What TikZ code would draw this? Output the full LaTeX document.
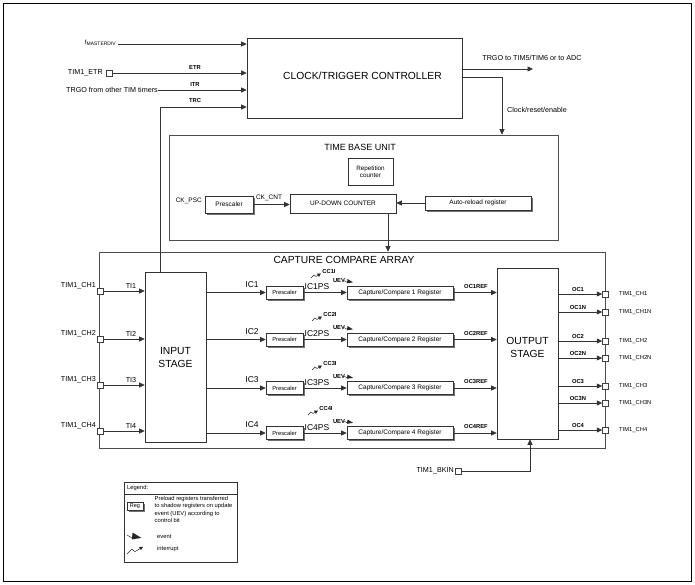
\documentclass[tikz,border=0pt]{standalone}
\usepackage{fontspec}
\setmainfont{Liberation Sans}
\usetikzlibrary{arrows.meta}
\begin{document}
\begin{tikzpicture}[x=1pt,y=-1pt,
  ln/.style={draw=black!80,line width=0.6pt},
  arr/.style={ln,-{Triangle[length=5.5pt,width=5pt]}},
  box/.style={draw=black!80,line width=0.6pt,fill=white,inner sep=0pt},
  sbox/.style={box,preaction={fill=black!55,transform canvas={xshift=1.6pt,yshift=-1.6pt}}},
  cont/.style={draw=black!70,line width=0.6pt,inner sep=0pt},
  pinsq/.style={draw=black!75,line width=0.5pt,fill=white,minimum size=6pt,inner sep=0pt},
  t10/.style={font=\fontsize{10.3}{12.5}\selectfont,inner sep=0pt,align=center},
  t9/.style={font=\fontsize{9}{11}\selectfont,inner sep=0pt},
  l7/.style={font=\fontsize{7.2}{8.6}\selectfont,inner sep=0pt},
  l65/.style={font=\fontsize{6.5}{7.8}\selectfont,inner sep=0pt},
  l6/.style={font=\fontsize{5.8}{7.3}\selectfont,inner sep=0pt,align=left},
  r6/.style={font=\fontsize{5.8}{7}\selectfont,inner sep=0pt},
  b6/.style={font=\bfseries\fontsize{5.8}{7}\selectfont,inner sep=0pt},
  l85/.style={font=\fontsize{8.5}{10}\selectfont,inner sep=0pt},
  intr/.pic={\draw[line width=0.5pt,black!85,-{Triangle[length=3.5pt,width=3.5pt]}] (0,0) -- (3,-3) -- (5,-1.5) -- (10,-4.5);},
  evt/.pic={\draw[line width=0.5pt,black!85] (0,0) -- (2.5,1.5) -- (4,1.5); \fill[black!85] (3.5,-1.5) -- (9,1.8) -- (3,2.8) -- cycle;}
]
\useasboundingbox (0,0) rectangle (695,585);
\draw[line width=0.8pt] (3,3) rectangle (691,581);

% containers
\node[cont,minimum width=389pt,minimum height=105pt] (tbu) at (363.5,187.5) {};
\node[cont,minimum width=506pt,minimum height=196pt] (cca) at (352,350) {};

% clock / trigger controller
\node[box,minimum width=215pt,minimum height=80pt] (ctrl) at (354.5,78) {};
\node[t10] (ctrlT) at (362.5,76) {CLOCK/TRIGGER CONTROLLER};

\node[inner sep=0pt,anchor=east] (fm) at (116,43) {{\fontsize{6}{7}\selectfont f}\raisebox{-1.5pt}{\fontsize{5}{6}\selectfont MASTERDIV}};
\coordinate (fmc) at (118,44);
\draw[arr] (fmc) -- (ctrl.west |- fmc);

\node[l7,anchor=east] (etrL) at (103,73) {TIM1\_ETR};
\node[pinsq] (etr) at (109.5,73) {};
\draw[arr] (etr.east) -- (ctrl.west |- etr);
\node[b6] (etrT) at (195,68) {ETR};

\node[l7,anchor=east] (itrL) at (158,90) {TRGO from other TIM timers};
\draw[arr] (itrL.east) -- (ctrl.west |- itrL.east);
\node[b6] (itrT) at (195,85) {ITR};

\coordinate (trgo) at (533,69);
\draw[arr] (ctrl.east |- trgo) -- (trgo);
\node[l7] (trgoT) at (532,58) {TRGO to TIM5/TIM6 or to ADC};
\coordinate (clk) at (502,77);
\draw[arr] (ctrl.east |- clk) -- (clk) -- (tbu.north -| clk);
\node[l7] (clkT) at (537,110) {Clock/reset/enable};

% time base unit
\node[t9] (tbuT) at (360,147) {TIME BASE UNIT};
\node[box,minimum width=45pt,minimum height=27pt,font=\fontsize{6.3}{7.5}\selectfont,align=center] (rep) at (370.5,171.5) {Repetition\\counter};
\node[sbox,minimum width=48pt,minimum height=17pt,l65] (psc) at (229,204.5) {Prescaler};
\node[box,minimum width=106pt,minimum height=19pt,l65] (udc) at (343,203.5) {UP-DOWN COUNTER};
\node[sbox,minimum width=106pt,minimum height=14pt,l65] (arl) at (478,203) {Auto-reload register};
\node[l65,anchor=east] (ckpsc) at (202,201) {CK\_PSC};
\node[l65] (ckcnt) at (269,198) {CK\_CNT};
\draw[arr] (psc.east) -- (udc.west |- psc.east);
\draw[arr] (arl.west) -- (udc.east |- arl.west);
\coordinate (dn) at (388,213);
\draw[arr] (udc.south -| dn) -- (cca.north -| dn);

% capture compare array
\node[t10] (ccaT) at (344,259.5) {CAPTURE COMPARE ARRAY};
\node[box,minimum width=61pt,minimum height=170pt] (instage) at (175.5,357) {};
\node[t10] (inT) at (175.5,357.5) {INPUT\\STAGE};
\node[box,minimum width=61pt,minimum height=171pt] (ostage) at (527.5,353.5) {};
\node[t10] (outT) at (527.5,347.5) {OUTPUT\\STAGE};

\coordinate (trc) at (160,107);
\draw[arr] (instage.north -| trc) -- (trc) -- (ctrl.west |- trc);
\node[b6] (trcT) at (195,101) {TRC};

\foreach \i/\ty/\cy/\ccx/\ccy in {1/291/292.5/329/272,2/339/339.5/330/315,3/385/388/330/364,4/431/433/326/409}{
  \node[pinsq] (ch\i) at (100,\ty) {};
  \node[l7,anchor=east] (chL\i) at (96,\ty-5) {TIM1\_CH\i};
  \node[l7] (ti\i) at (131,\ty-5) {TI\i};
  \draw[arr] (ch\i) -- (instage.west |- ch\i);
  \node[sbox,minimum width=37pt,minimum height=13pt,r6] (psc\i) at (284.5,\cy) {Prescaler};
  \node[sbox,minimum width=106pt,minimum height=13pt,l65] (ccr\i) at (400,\cy) {Capture/Compare \i\ Register};
  \draw[arr] (instage.east |- psc\i) -- (psc\i.west);
  \node[l85] (ic\i) at (252,\cy-8) {IC\i};
  \draw[arr] (psc\i.east) -- (ccr\i.west);
  \node[l85,anchor=base west] (icps\i) at (304.5,\cy-3) {IC\i PS};
  \draw[arr] (ccr\i.east) -- (ostage.west |- ccr\i);
  \node[b6] (ocref\i) at (476,\cy-6) {OC\i REF};
  \node[b6] (cci\i) at (\ccx,\ccy) {CC\i I};
  \pic at (\ccx-18,\ccy+6) {intr};
  \node[b6] (uev\i) at (339,\cy-11.5) {UEV};
  \pic at (344,\cy-12) {evt};
}

\foreach \n/\y/\lbl in {OC1/294/TIM1\_CH1,OC1N/312/TIM1\_CH1N,OC2/341/TIM1\_CH2,OC2N/358/TIM1\_CH2N,OC3/386/TIM1\_CH3,OC3N/403/TIM1\_CH3N,OC4/430/TIM1\_CH4}{
  \node[pinsq] (p\n) at (605.5,\y) {};
  \draw[arr] (ostage.east |- p\n) -- (p\n.west);
  \node[b6] (t\n) at (578,\y-4.5) {\n};
  \node[r6,anchor=west] (l\n) at (619,\y) {\lbl};
}

% break input
\node[pinsq] (bk) at (458,471) {};
\node[l7,anchor=east] (bkL) at (454,471) {TIM1\_BKIN};
\coordinate (bkx) at (530,471);
\draw[arr] (bk.east) -- (bkx) -- (ostage.south -| bkx);

% legend
\node[draw=black!80,line width=0.6pt,minimum width=113pt,minimum height=80pt,inner sep=0pt] (leg) at (180.5,522) {};
\coordinate (legh) at (124,494);
\draw[ln] (leg.west |- legh) -- (leg.east |- legh);
\node[l6,anchor=west] (legT) at (127,488) {Legend:};
\node[sbox,minimum width=16pt,minimum height=8pt,font=\fontsize{5.5}{6}\selectfont] (reg) at (135,506) {Reg};
\node[l6,anchor=north west] (legD) at (154.5,496) {Preload registers transferred\\to shadow registers on update\\event (UEV) according to\\control bit};
\pic[scale=1.6] at (127,535) {evt};
\node[l6,anchor=west] (legE) at (157,537) {event};
\pic[scale=1.6] at (127,554) {intr};
\node[l6,anchor=west] (legI) at (157,549) {interrupt};
\end{tikzpicture}
\end{document}
